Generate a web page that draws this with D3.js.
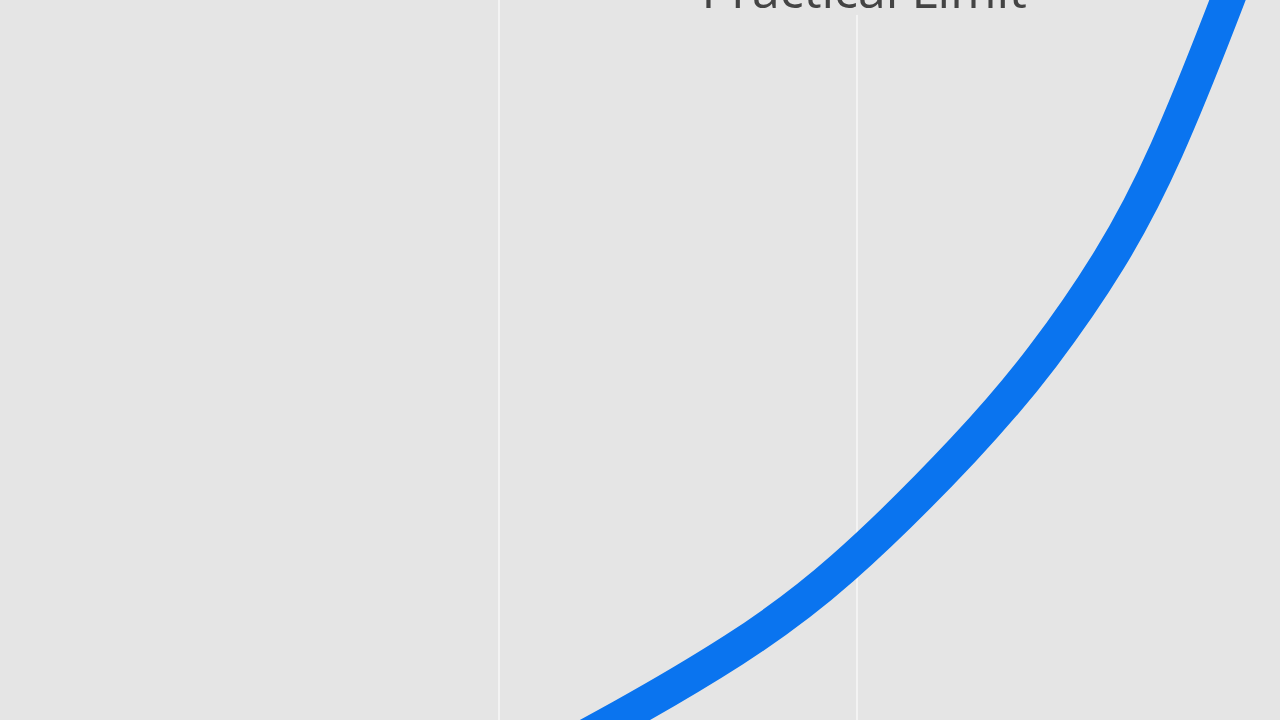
<!DOCTYPE html>
<html lang="en">
<head>
<meta charset="UTF-8">
<title>Practical Limit</title>
<script src="https://d3js.org/d3.v7.min.js"></script>
<style>
  html, body { margin: 0; padding: 0; background: #e5e5e5; overflow: hidden; }
  svg { display: block; }
</style>
</head>
<body>
<svg id="chart" width="1280" height="720"></svg>
<script>
// data (x in grid units, y in percent of view height)
var gridX = [1, 2];
var curveX = [1.08, 1.33, 1.665, 1.939, 2.33, 2.517, 2.712, 2.86, 3.036, 3.08];
var curveY = [-6.5, 0, 9.7, 19.4, 38.9, 50, 63.9, 77.8, 100, 106];
var labelText = "Practical Limit";
var labelPos = [2.02, 98.9];

var width = 1280, height = 720;

var svg = d3.select("#chart");

var x = d3.scaleLinear().domain([1, 2]).range([499, 857]);
var y = d3.scaleLinear().domain([0, 100]).range([height, 0]);

svg.append("rect")
  .attr("width", width)
  .attr("height", height)
  .attr("fill", "#e5e5e5");

// vertical grid lines
svg.selectAll("line.grid")
  .data(gridX)
  .enter()
  .append("line")
  .attr("class", "grid")
  .attr("x1", d => x(d))
  .attr("x2", d => x(d))
  .attr("y1", 0)
  .attr("y2", height)
  .attr("stroke", "#f7f7f7")
  .attr("stroke-width", 1.5);

var pts = curveX.map((d, i) => [d, curveY[i]]);

var line = d3.line()
  .x(d => x(d[0]))
  .y(d => y(d[1]))
  .curve(d3.curveBasis);

svg.append("path")
  .datum(pts)
  .attr("d", line)
  .attr("fill", "none")
  .attr("stroke", "#0a74ef")
  .attr("stroke-width", 34);

// label with a box the colour of the panel
var label = svg.append("g")
  .attr("transform", "translate(" + x(labelPos[0]) + "," + y(labelPos[1]) + ")");

label.append("rect")
  .attr("x", -175)
  .attr("y", -60)
  .attr("width", 350)
  .attr("height", 67)
  .attr("fill", "#e5e5e5");

label.append("text")
  .attr("text-anchor", "middle")
  .attr("font-family", "'Open Sans', sans-serif")
  .attr("font-size", 50)
  .attr("fill", "#444")
  .text(labelText);
</script>
</body>
</html>
